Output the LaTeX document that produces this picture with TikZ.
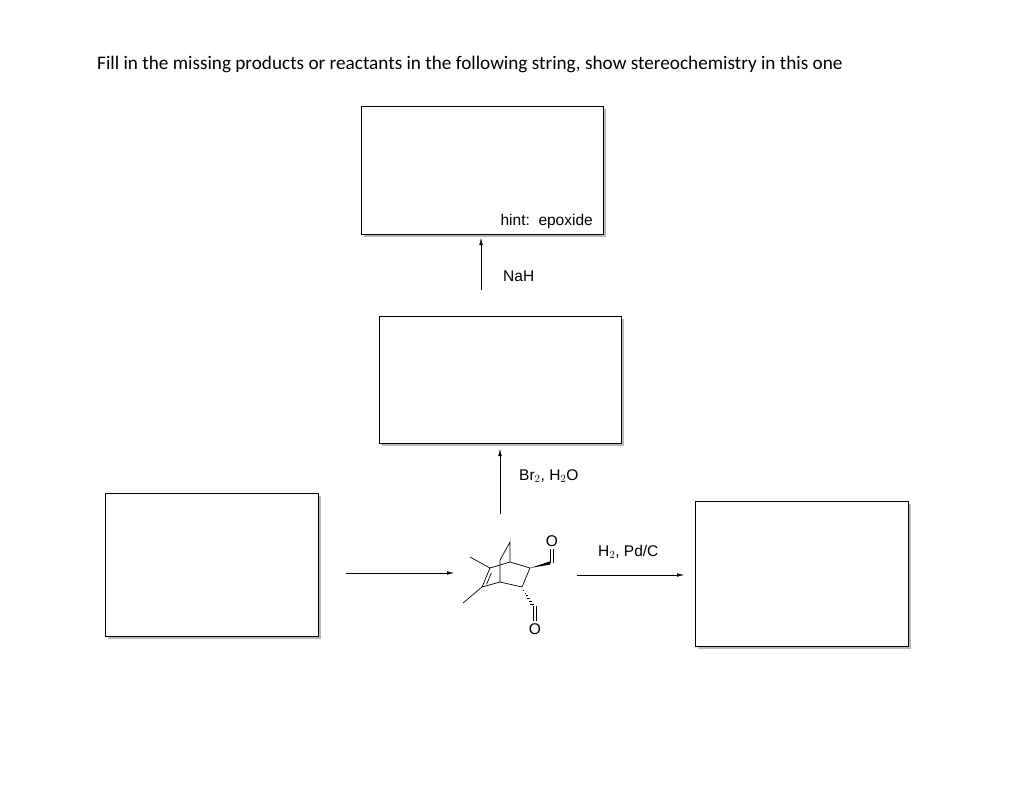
\documentclass[tikz,border=0pt]{standalone}
\usepackage{fontspec}
\setmainfont{Carlito}
\newfontfamily\arialf{Liberation Sans}
\usetikzlibrary{arrows.meta,calc}
\begin{document}
\begin{tikzpicture}[x=1pt,y=-1pt,
  box/.style={draw,thin,fill=white},
  shad/.style={fill=gray!55,draw=none},
  arr/.style={-{Latex[length=7pt,width=3.5pt]},thin},
  lab/.style={font=\arialf\fontsize{15.5}{18}\selectfont,inner sep=0pt},
  bd/.style={line width=0.7pt}]
\useasboundingbox (0,0) rectangle (1024,795);
\node[anchor=west,inner sep=0pt,font=\fontsize{19.2}{22}\selectfont] (title) at (97,64) {Fill in the missing products or reactants in the following string, show stereochemistry in this one};
% boxes
\fill[shad] (364,109) rectangle (606,237);
\draw[box] (361,106) rectangle (603,234);
\node[lab,anchor=east] (hint) at (593,221) {hint:\ \ epoxide};
\fill[shad] (382,319) rectangle (624,446);
\draw[box] (379,316) rectangle (621,443);
\fill[shad] (108,496) rectangle (321,639);
\draw[box] (105,493) rectangle (318,636);
\fill[shad] (698,504) rectangle (911,649);
\draw[box] (695,501) rectangle (908,646);
\coordinate (a1s) at (481,290); \coordinate (a1e) at (481,238);
\coordinate (a2s) at (500,514); \coordinate (a2e) at (500,449);
\coordinate (a3s) at (346,573); \coordinate (a3e) at (454,573);
\coordinate (a4s) at (577,575); \coordinate (a4e) at (684,575);
\draw[arr] (a1s) -- (a1e);
\draw[arr] (a2s) -- (a2e);
\draw[arr] (a3s) -- (a3e);
\draw[arr] (a4s) -- (a4e);
\node[lab,anchor=west] (nah) at (503,276) {NaH};
\node[lab,anchor=west] (br) at (519,476) {Br$_2$, H$_2$O};
\node[lab,anchor=west] (h2) at (598,552) {H$_2$, Pd/C};
% molecule
\coordinate (C1) at (510,562);
\coordinate (C4) at (500,582);
\coordinate (C7) at (510,542);
\coordinate (C8) at (500,560);
\coordinate (C2) at (490,568);
\coordinate (C3) at (482,587);
\coordinate (M2) at (470,557);
\coordinate (M3) at (463,603);
\coordinate (C5) at (530,568);
\coordinate (C6) at (522,587);
\coordinate (A1) at (550,563);
\coordinate (O1) at (550,549);
\coordinate (A2) at (533,606);
\coordinate (O2) at (533,621);
\draw[bd] (C1)--(C7)--(C8)--(C4);
\draw[bd] (C1)--(C2)--(C3)--(C4);
\draw[bd] ($(C2)!0.2!(C3)+(3,1)$) -- ($(C2)!0.8!(C3)+(3,1)$);
\draw[bd] (C2)--(M2); \draw[bd] (C3)--(M3);
\draw[bd] (C1)--(C5)--(C6)--(C4);
\fill (C5) -- ($(A1)+(0,-1.6)$) -- ($(A1)+(0,1.6)$) -- cycle;
\foreach \t in {0.15,0.3,...,0.95}{\draw[thin] ($(C6)!\t!(A2)+(-\t*2,0)$) -- ($(C6)!\t!(A2)+(\t*2,0)$);}
\draw[bd] (A1)--(O1); \draw[bd] ($(A1)+(3,0)$)--($(O1)+(3,0)$);
\draw[bd] (A2)--(O2); \draw[bd] ($(A2)+(3,0)$)--($(O2)+(3,0)$);
\node[lab] (o1) at (552,541) {O};
\node[lab] (o2) at (535,629) {O};
\end{tikzpicture}
\end{document}
